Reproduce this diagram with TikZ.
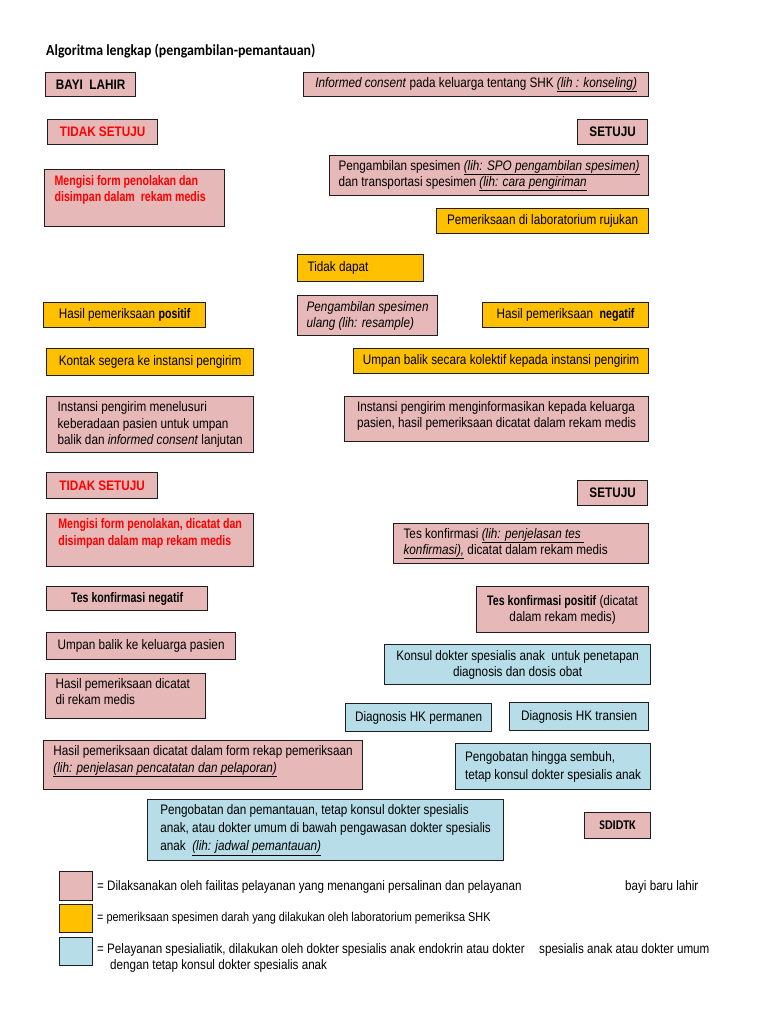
\documentclass[tikz,border=0pt]{standalone}
\usepackage{fontspec}
\setmainfont{Liberation Sans}[FakeStretch=0.85]
\newfontfamily\narrowfont{Liberation Sans}[FakeStretch=0.77]
\newfontfamily\calfont{Carlito}[FakeStretch=0.9]
\definecolor{pinkfill}{HTML}{E6B8B7}
\definecolor{yellowfill}{HTML}{FFC000}
\definecolor{bluefill}{HTML}{B7DEE8}
\definecolor{edge}{HTML}{1E1E1E}
\newcommand\lihref[1]{\underline{\textit{#1}}}
\newcommand\strongword[1]{{\narrowfont\bfseries #1}}

\begin{document}
\begin{tikzpicture}
[
    x=1pt, y=-1pt,
    box/.style={draw=edge, line width=1.2pt, anchor=north west, inner xsep=3pt, inner ysep=1pt},
    pinkbox/.style={box, fill=pinkfill},
    yellowbox/.style={box, fill=yellowfill},
    bluebox/.style={box, fill=bluefill},
    boxsize/.style 2 args={minimum width=#1pt, minimum height=#2pt},
    padded/.style={inner xsep=10pt, text width=#1pt, align=flush left},
    refuse/.style={text=red, font=\bfseries},
    refusenote/.style={text=red, font=\narrowfont\bfseries},
    legendkey/.style={draw=edge, line width=1.2pt, anchor=north west, inner sep=0pt, minimum width=33pt},
    legendtext/.style={anchor=west, inner sep=0pt, font=\fontsize{13.7}{16}\selectfont},
]
\fontsize{13.8}{16.3}\selectfont
\useasboundingbox (0,0) rectangle (768,1024);
\node [anchor=west, inner sep=0pt, font=\calfont\bfseries\fontsize{15.4}{18}\selectfont] (title) at (46,51)
{Algoritma lengkap (pengambilan-pemantauan)};
\node [pinkbox, boxsize={90}{24}, font=\bfseries] (bayi) at (45,72) {BAYI~ LAHIR};
\node [pinkbox, boxsize={345}{24}] (consent) at (303,72)
{\textit{Informed consent} pada keluarga tentang SHK \lihref{(lih : konseling)}};
\node [pinkbox, refuse, boxsize={110}{25}] (tolak) at (47,119) {TIDAK SETUJU};
\node [pinkbox, boxsize={70}{25}, font=\bfseries] (setuju) at (577,119) {SETUJU};
\node [pinkbox, refusenote, boxsize={180}{57}, padded=160, text depth=36pt] (formtolak) at (44,169)
{Mengisi form penolakan dan\\ disimpan dalam~ rekam medis};
\node [pinkbox, boxsize={319}{40}, align=flush left] (ambil) at (329,155)
{Pengambilan spesimen \lihref{(lih: SPO pengambilan spesimen)}\\
dan transportasi spesimen \lihref{(lih: cara pengiriman}};
\node [yellowbox, boxsize={212}{25}] (lab) at (436,208) {Pemeriksaan di laboratorium rujukan};
\node [yellowbox, boxsize={126}{27}, padded=106] (tidakdapat) at (297,254) {Tidak dapat};
\node [pinkbox, boxsize={140}{40}, align=flush left, font=\itshape] (ulang) at (297,295)
{Pengambilan spesimen\\ ulang (lih: resample)};
\node [yellowbox, boxsize={162}{25}] (positif) at (43,302) {Hasil pemeriksaan \strongword{positif}};
\node [yellowbox, boxsize={166}{25}] (negatif) at (482,302) {Hasil pemeriksaan~ \strongword{negatif}};
\node [yellowbox, boxsize={207}{27}] (kontak) at (46,348) {Kontak segera ke instansi pengirim};
\node [yellowbox, boxsize={295}{25}] (kolektif) at (353,348) {Umpan balik secara kolektif kepada instansi pengirim};
\node [pinkbox, boxsize={207}{56}, align=flush left] (telusur) at (46,396)
{Instansi pengirim menelusuri\\ keberadaan pasien untuk umpan\\ balik dan \textit{informed consent} lanjutan};
\node [pinkbox, boxsize={304}{45}, align=flush left, text depth=9pt] (informasi) at (344,396)
{Instansi pengirim menginformasikan kepada keluarga\\ pasien, hasil pemeriksaan dicatat dalam rekam medis};
\node [pinkbox, refuse, boxsize={111}{26}] (tolakdua) at (46,472) {TIDAK SETUJU};
\node [pinkbox, boxsize={70}{25}, font=\bfseries] (setujudua) at (577,480) {SETUJU};
\node [pinkbox, refusenote, boxsize={207}{53}, align=flush left, text depth=16pt] (formtolakdua) at (46,513)
{Mengisi form penolakan, dicatat dan\\ disimpan dalam map rekam medis};
\node [pinkbox, boxsize={255}{40}, padded=235] (konfirmasi) at (393,523)
{Tes konfirmasi \lihref{(lih: penjelasan tes~}\\ \lihref{konfirmasi),} dicatat dalam rekam medis};
\node [pinkbox, boxsize={161}{24}, font=\narrowfont\bfseries] (konfnegatif) at (46,586) {Tes konfirmasi negatif};
\node [pinkbox, boxsize={172}{46}, align=center] (konfpositif) at (476,586)
{\strongword{Tes konfirmasi positif} (dicatat\\ dalam rekam medis)};
\node [pinkbox, boxsize={189}{27}] (umpanbalik) at (46,632) {Umpan balik ke keluarga pasien};
\node [bluebox, boxsize={266}{40}, align=center] (konsul) at (384,644)
{Konsul dokter spesialis anak~ untuk penetapan\\ diagnosis dan dosis obat};
\node [pinkbox, boxsize={160}{45}, padded=140, text depth=26pt] (dicatat) at (45,673)
{Hasil pemeriksaan dicatat\\ di rekam medis};
\node [bluebox, boxsize={146}{28}] (permanen) at (345,703) {Diagnosis HK permanen};
\node [bluebox, boxsize={139}{28}] (transien) at (509,702) {Diagnosis HK transien};
\node [pinkbox, boxsize={319}{49}, align=flush left, text depth=12pt] (rekap) at (43,740)
{Hasil pemeriksaan dicatat dalam form rekap pemeriksaan\\ \lihref{(lih: penjelasan pencatatan dan pelaporan)}};
\node [bluebox, boxsize={195}{46}, align=flush left, font=\fontsize{13.8}{18}\selectfont] (sembuh) at (455,743)
{Pengobatan hingga sembuh,\\ tetap konsul dokter spesialis anak};
\node [bluebox, boxsize={356}{61}, align=flush left, font=\fontsize{13.8}{18}\selectfont] (pantau) at (147,799)
{Pengobatan dan pemantauan, tetap konsul dokter spesialis\\ anak, atau dokter umum di bawah pengawasan dokter spesialis\\ anak~ \lihref{(lih: jadwal pemantauan)}};
\node [pinkbox, boxsize={66}{26}, font=\calfont\bfseries\fontsize{13.3}{16}\selectfont] (sdidtk) at (584,812) {SDIDTK};
\node [legendkey, fill=pinkfill, minimum height=29pt] (keypink) at (59,871) {};
\node [legendkey, fill=yellowfill, minimum height=28pt] (keyyellow) at (59,904) {};
\node [legendkey, fill=bluefill, minimum height=28pt] (keyblue) at (59,937) {};
\node [legendtext] (legpink) at (97,887) {= Dilaksanakan oleh failitas pelayanan yang menangani persalinan dan pelayanan};
\node [legendtext] (legpinkend) at (625,887) {bayi baru lahir};
\node [legendtext, font=\fontsize{12.8}{16}\selectfont] (legyellow) at (97,918)
{= pemeriksaan spesimen darah yang dilakukan oleh laboratorium pemeriksa SHK};
\node [legendtext] (legblue) at (97,950) {= Pelayanan spesialiatik, dilakukan oleh dokter spesialis anak endokrin atau dokter};
\node [legendtext] (legblueend) at (539,950) {spesialis anak atau dokter umum};
\node [legendtext] (legbluenext) at (110,966) {dengan tetap konsul dokter spesialis anak};
\end{tikzpicture}
\end{document}
